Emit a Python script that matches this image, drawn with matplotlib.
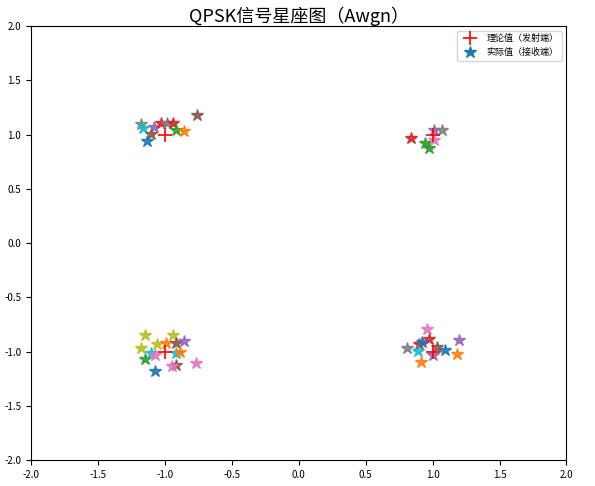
import matplotlib
matplotlib.use('Agg')
import matplotlib.pyplot as plt

plt.rcParams['font.family'] = ['Noto Sans CJK SC', 'DejaVu Sans']
plt.rcParams['axes.unicode_minus'] = False

# ideal constellation points
ideal_x = [-1, 1, -1, 1]
ideal_y = [1, 1, -1, -1]

# received points (x, y, colour index in tab10)
rx_x = [-1.18, -1.16, -1.08, -1.10, -1.13, -1.03, -0.98, -0.94, -0.92, -0.86, -0.76,
        0.84, 0.94, 0.97, 1.01, 1.01, 1.07,
        -1.15, -1.18, -1.06, -0.94, -1.15, -1.10, -1.07, -1.07, -0.99, -0.92, -0.92,
        -0.86, -0.89, -0.92, -0.95, -0.77,
        0.96, 0.97, 0.90, 0.92, 0.81, 0.89, 1.03, 1.00, 1.09, 1.20, 1.18, 0.91]
rx_y = [1.10, 1.06, 1.07, 1.01, 0.94, 1.11, 1.11, 1.11, 1.04, 1.03, 1.18,
        0.97, 0.92, 0.88, 0.95, 1.04, 1.04,
        -0.85, -0.97, -0.93, -0.85, -1.07, -1.01, -1.03, -1.18, -0.92, -1.01, -0.92,
        -0.90, -1.00, -1.12, -1.13, -1.10,
        -0.79, -0.88, -0.93, -0.91, -0.97, -0.99, -0.96, -1.03, -0.98, -0.89, -1.02, -1.09]
rx_c = [7, 9, 4, 5, 0, 3, 7, 3, 2, 1, 5,
        3, 2, 2, 6, 4, 7,
        8, 8, 8, 8, 2, 9, 6, 0, 1, 9, 5,
        4, 1, 5, 6, 6,
        6, 3, 3, 0, 7, 9, 5, 4, 0, 4, 1, 1]

fig = plt.figure(figsize=(5.95, 4.86), dpi=100)
ax = fig.add_axes([0.052, 0.053, 0.9, 0.893])

for x, y, c in zip(rx_x, rx_y, rx_c):
    ax.plot(x, y, '*', color='C%d' % c, markersize=9, alpha=0.9)
ax.plot(ideal_x, ideal_y, '+', color='red', markersize=10, mew=1.2, label='理论值（发射端）')
ax.plot([], [], '*', color='C0', markersize=9, label='实际值（接收端）')

ax.set_xlim(-2, 2)
ax.set_ylim(-2, 2)
ax.tick_params(labelsize=7)
ax.set_title('QPSK信号星座图（Awgn）', fontsize=13, pad=3)
ax.legend(loc='upper right', fontsize=6.5)

fig.savefig('out.png')
